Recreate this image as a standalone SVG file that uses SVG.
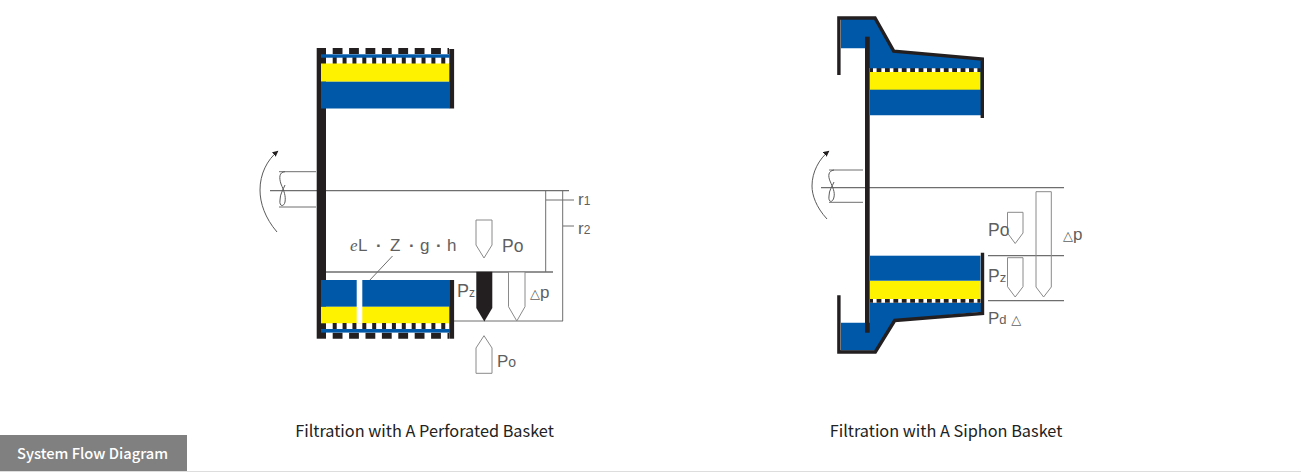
<svg xmlns="http://www.w3.org/2000/svg" width="1301" height="472" viewBox="0 0 1301 472">
<style>
.bl{fill:#0058a8}.ye{fill:#fff200}.bk{fill:#231f20}
.wall{fill:none;stroke:#231f20;stroke-linejoin:miter}
.ln{fill:none;stroke:#6e6e6e;stroke-width:1}
.ax{fill:none;stroke:#6e6e6e;stroke-width:1.3}
.cv{fill:none;stroke:#5a5a5a;stroke-width:1}
.ar{fill:#fff;stroke:#8a8a8a;stroke-width:1}
.t{font-family:"Liberation Sans",Arial,sans-serif;fill:#5f5f5f}
.tri{font-family:"DejaVu Sans",sans-serif;font-size:13px}
.cap{font-family:"Noto Sans CJK KR","Noto Sans",sans-serif;font-size:16.3px;fill:#222;text-anchor:middle}
.big{stroke:#231f20;stroke-width:6;stroke-dasharray:9.8 6.6;fill:none}
.small{stroke:#231f20;stroke-width:8;stroke-dasharray:4 5.87;fill:none}
.dot{stroke:#fff;stroke-width:3.6;stroke-dasharray:3.6 4.8;fill:none}
</style>
<defs>
<marker id="tip" markerWidth="7" markerHeight="7" refX="5.5" refY="3" orient="auto" markerUnits="userSpaceOnUse"><path d="M0,0L6,3L0,6Z" fill="#231f20"/></marker>
</defs>
<rect width="1301" height="472" fill="#fff"/>

<g id="connectors">
<path class="ax" d="M270,190.7H569"/>
<path class="ln" d="M279,171.7H316M279,207H316"/>
<path class="cv" d="M285,171.7C279,172 279,178 281,184C284,191 286,196 285,202C284,207 279,207 280,200C280,194 283,190 285,185"/>
<path class="cv" d="M277,232C265,218 260,203 260,190C260,174 267,160 278,151" marker-end="url(#tip)"/>
<path class="ax" d="M326,272H553"/>
<path class="ln" d="M545.7,191V272M562.7,191V321M454,321H563M546,200H574M563,226H574M392.5,256L361,289.5"/>
<path class="ax" d="M821,187.7H1064M988,255.7H1064M988,300.7H1064"/>
<path class="ln" d="M829,170H863M829,202.3H863"/>
<path class="cv" d="M834,170C828,171 828,176 830,181C833,188 835,192 834,197C833,203 828,203 829,196C829,190 832,187 834,182"/>
<path class="cv" d="M827,219C816,207 812,195 812,186C812,172 819,159 829,151" marker-end="url(#tip)"/>
</g>

<g id="perforated-wall"><rect class="bk" x="316.7" y="48" width="9.3" height="290.7"/></g>

<g id="perforated-basket-top">
<rect fill="#fff" x="326" y="54" width="123.5" height="10"/>
<path class="big" d="M332.7,51H449"/>
<path class="small" d="M332.7,60H449"/>
<rect class="bl" x="321" y="54.3" width="128.5" height="3.4"/>
<rect class="ye" x="321" y="63.5" width="128.5" height="18.2"/>
<rect class="bl" x="321" y="81.7" width="128.5" height="26.8"/>
<rect class="bk" x="449.3" y="49" width="4.8" height="59.5"/>
</g>

<g id="perforated-basket-bottom">
<rect class="bl" x="321" y="280" width="128.5" height="26.8"/>
<rect class="ye" x="321" y="306.8" width="128.5" height="16.5"/>
<path class="small" d="M332.7,327H449"/>
<path class="big" d="M332.7,335.7H449"/>
<rect class="bl" x="321" y="329" width="128.5" height="3.6"/>
<rect fill="#fff" x="356.7" y="280" width="5.6" height="43.3"/>
<rect class="bk" x="449.3" y="280" width="4.8" height="58.7"/>
</g>

<g id="perforated-pressures">
<path class="ar" d="M476,220H492V245L484,258L476,245Z"/>
<path class="bk" d="M476.3,271.7H492.3V308L484.3,321.5L476.3,308Z"/>
<path class="ar" d="M508.5,272H525V306.7L516.8,321L508.5,306.7Z"/>
<path class="ar" d="M476,373.3H492V348L484,335.7L476,348Z"/>
</g>

<g id="perforated-labels">
<text class="t" y="250.5" font-size="17"><tspan x="350" font-style="italic" font-family="Liberation Serif">e</tspan><tspan x="358">L</tspan><tspan x="376" font-weight="bold">·</tspan><tspan x="390">Z</tspan><tspan x="409" font-weight="bold">·</tspan><tspan x="420">g</tspan><tspan x="436" font-weight="bold">·</tspan><tspan x="447">h</tspan></text>
<text class="t" x="502" y="252" font-size="17.5">Po</text>
<text class="t" x="457" y="297" font-size="18">P<tspan font-size="12">z</tspan></text>
<text class="t" x="530" y="298" font-size="17"><tspan class="tri">△</tspan>p</text>
<text class="t" x="497" y="366.5" font-size="17">P<tspan font-size="14">o</tspan></text>
<text class="t" x="578" y="205" font-size="17">r<tspan font-size="12">1</tspan></text>
<text class="t" x="578" y="233.5" font-size="17">r<tspan font-size="12">2</tspan></text>
</g>

<g id="siphon-basket">
<path class="bl" d="M841,19H875L893.7,51L981,59V115.3H870V68H865V48.3H841Z"/>
<path class="bl" d="M870,303H981V312L894.7,320L875.3,350.5H841V322.7H870Z"/>
<rect class="ye" x="870" y="72" width="110.5" height="17.7"/>
<rect class="ye" x="870" y="280.7" width="110.5" height="18.3"/>
<rect class="bl" x="870" y="255.7" width="110.5" height="25"/>
<rect class="bk" x="870" y="68.3" width="110.5" height="3.7"/>
<path class="dot" d="M873,70.1H980"/>
<rect class="bk" x="870" y="299" width="110.5" height="3.8"/>
<path class="dot" d="M873,300.9H980"/>
<path class="wall" stroke-width="3.4" d="M838.9,75V18H875L893.7,51.2L982.3,59V118"/>
<path class="wall" stroke-width="3.4" d="M982.5,252.7V313.5L894.7,320.5L875.3,352H838.9V295.3"/>
<rect class="bk" x="865" y="36.7" width="4.7" height="296"/>
</g>

<g id="siphon-pressures">
<path class="ar" d="M1007.5,212.3H1023V233L1015.2,243.5L1007.5,233Z"/>
<path class="ar" d="M1007.5,257.7H1023V286.7L1015.2,297L1007.5,286.7Z"/>
<path class="ar" d="M1036,191.7H1051.3V287L1043.6,297L1036,287Z" fill-opacity="0"/>
</g>

<g id="siphon-labels">
<text class="t" x="988" y="235.5" font-size="17.5">Po</text>
<text class="t" x="988" y="281.5" font-size="17.5">P<tspan font-size="13">z</tspan></text>
<text class="t" x="988" y="324" font-size="17">P<tspan font-size="13">d</tspan> <tspan class="tri">△</tspan></text>
<text class="t" x="1063" y="240" font-size="17"><tspan class="tri">△</tspan>p</text>
</g>

<g id="captions">
<text class="cap" x="424.5" y="437">Filtration with A Perforated Basket</text>
<text class="cap" x="946" y="437">Filtration with A Siphon Basket</text>
</g>

<g id="footer">
<rect x="0" y="471" width="1301" height="1" fill="#ddd"/>
<rect x="0" y="435" width="187" height="36" fill="#808080"/>
<text x="17" y="459" font-family="Noto Sans CJK KR,Noto Sans,sans-serif" font-size="14.7" font-weight="500" fill="#fff">System Flow Diagram</text>
</g>
</svg>
